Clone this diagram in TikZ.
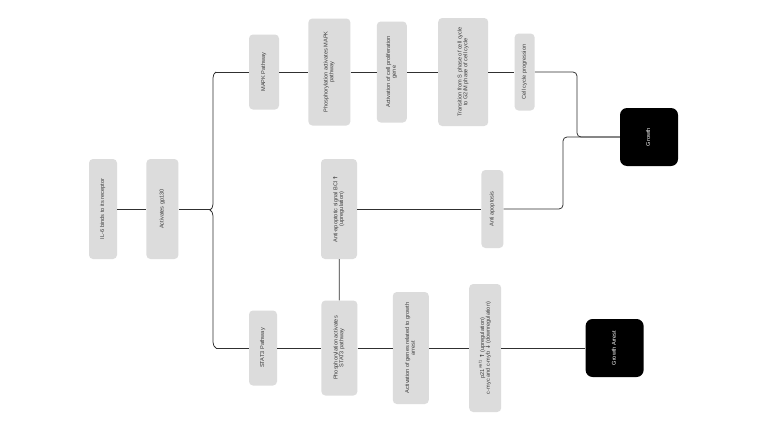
\documentclass[tikz,border=0pt]{standalone}
\usepackage{fontspec}
\setmainfont{Liberation Sans}
\newfontfamily\arrowfont{DejaVu Sans}
\usetikzlibrary{positioning,decorations.pathreplacing}
\definecolor{boxgray}{HTML}{DCDCDC}
\definecolor{linegray}{HTML}{303030}
\definecolor{textgray}{HTML}{3C3C3C}
\newcommand{\vtext}[1]{\rotatebox{90}{\def\arraystretch{0.85}\begin{tabular}{@{}c@{}}#1\end{tabular}}}
\newcommand{\up}{{\arrowfont\bfseries ↑}}
\newcommand{\down}{{\arrowfont\bfseries ↓}}

\begin{document}
\begin{tikzpicture}[
    x=1pt, y=-1pt,
    node distance=28pt,
    box/.style={rectangle, rounded corners=4pt, fill=boxgray, text=textgray, inner sep=1pt, font=\fontsize{5.6}{6.6}\selectfont},
    endbox/.style={rectangle, rounded corners=7pt, fill=black, text=white, inner sep=1pt, minimum width=58pt, minimum height=58pt, font=\fontsize{5.6}{6.6}\selectfont},
    link/.style={draw=linegray, line width=0.75pt}
]
    \useasboundingbox[fill=white] (0,0) rectangle (768,431);

    % receptor side
    \node[box, minimum width=28pt, minimum height=100pt] (ilsix) at (103,209) {\vtext{IL-6 binds to its receptor}};
    \node[box, right=29pt of ilsix, minimum width=32pt, minimum height=100pt] (gp) {\vtext{Activates gp130}};

    % MAPK branch
    \node[box, minimum width=30pt, minimum height=75pt] (mapk) at (264,72) {\vtext{MAPK Pathway}};
    \node[box, right=29pt of mapk, minimum width=42pt, minimum height=107pt] (mapkph) {\vtext{Phosphorylation activates MAPK\\pathway}};
    \node[box, right=26pt of mapkph, minimum width=30pt, minimum height=101pt] (prolif) {\vtext{Activation of cell proliferation\\gene}};
    \node[box, right=31pt of prolif, minimum width=50pt, minimum height=108pt] (phase) {\vtext{Transition from S phase of cell cycle\\to G2/M phase of cell cycle}};
    \node[box, right=26pt of phase, minimum width=20pt, minimum height=77pt] (cycle) {\vtext{Cell cycle progression}};
    \node[endbox] (growth) at (649,137) {\vtext{Growth}};

    % anti-apoptosis
    \node[box, minimum width=36pt, minimum height=100pt] (antiap) at (339,209) {\vtext{Anti-apoptotic signal BCl \up\\(upregulation)}};
    \node[box, right=124pt of antiap, minimum width=22pt, minimum height=78pt] (apop) {\vtext{Anti apoptosis}};

    % STAT3 branch
    \node[box, minimum width=28pt, minimum height=75pt] (stat) at (263,348) {\vtext{STAT3 Pathway}};
    \node[box, right=44pt of stat, minimum width=36pt, minimum height=95pt] (statph) {\vtext{Phosphorylation activates\\STAT3 pathway}};
    \node[box, right=35pt of statph, minimum width=36pt, minimum height=112pt] (arrestgene) {\vtext{Activation of genes related to growth\\arrest}};
    \node[box, right=40pt of arrestgene, minimum width=32pt, minimum height=128pt] (pcdk) {\vtext{p21\textsuperscript{waf1} \up\ (upregulation)\\c-myc and c-myb \down\ (downregulation)}};
    \node[endbox, right=84pt of pcdk] (arrest) {\vtext{Growth Arrest}};

    \coordinate (bracetop) at (216,72);
    \coordinate (bracebot) at (216,348);
    \coordinate (bracetip) at (210,209);
    \coordinate (upjoin) at (577,137);
    \coordinate (lowjoin) at (563,137);

    \draw[link] (ilsix) -- (gp);
    \draw[link] (gp) -- (bracetip);
    \draw[link, decorate, decoration={brace, amplitude=6pt}] (bracebot) -- (bracetop);
    \draw[link] (bracetop) -- (mapk);
    \draw[link] (bracebot) -- (stat);

    \draw[link] (mapk) -- (mapkph);
    \draw[link] (mapkph) -- (prolif);
    \draw[link] (prolif) -- (phase);
    \draw[link] (phase) -- (cycle);
    \draw[link, rounded corners=4pt] (cycle) -| (upjoin) -- (growth);

    \draw[link] (antiap) -- (apop);
    \draw[link, rounded corners=4pt] (apop) -| (lowjoin) -- (growth);
    \draw[link] (antiap) -- (statph);

    \draw[link] (stat) -- (statph);
    \draw[link] (statph) -- (arrestgene);
    \draw[link] (arrestgene) -- (pcdk);
    \draw[link] (pcdk) -- (arrest);
\end{tikzpicture}
\end{document}
